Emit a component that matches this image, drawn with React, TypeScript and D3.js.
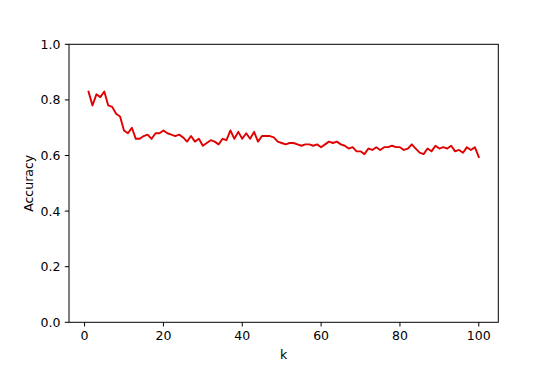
import React from "react";
import * as d3 from "d3";

const kValues: number[] = d3.range(1, 101);
const accuracy: number[] = [
  0.83, 0.78, 0.82, 0.81, 0.83, 0.78, 0.775, 0.75, 0.74, 0.69,
  0.68, 0.70, 0.66, 0.66, 0.67, 0.675, 0.66, 0.68, 0.68, 0.69,
  0.68, 0.675, 0.67, 0.675, 0.665, 0.65, 0.67, 0.65, 0.66, 0.635,
  0.645, 0.655, 0.65, 0.64, 0.66, 0.655, 0.69, 0.66, 0.685, 0.66,
  0.68, 0.66, 0.685, 0.65, 0.67, 0.67, 0.67, 0.665, 0.65, 0.645,
  0.64, 0.645, 0.645, 0.64, 0.635, 0.64, 0.64, 0.635, 0.64, 0.63,
  0.64, 0.65, 0.645, 0.65, 0.64, 0.635, 0.625, 0.63, 0.615, 0.615,
  0.605, 0.625, 0.62, 0.63, 0.62, 0.63, 0.63, 0.635, 0.63, 0.63,
  0.62, 0.625, 0.64, 0.625, 0.61, 0.605, 0.625, 0.615, 0.635, 0.625,
  0.63, 0.625, 0.635, 0.615, 0.62, 0.61, 0.63, 0.62, 0.63, 0.595,
];
const xTicks: number[] = [0, 20, 40, 60, 80, 100];
const yTicks: number[] = [0, 0.2, 0.4, 0.6, 0.8, 1.0];
const xLabel = "k";
const yLabel = "Accuracy";

export default function App() {
  const W = 554, H = 369;
  const left = 69, right = 498.3, top = 44.3, bottom = 322.3;
  const x = d3.scaleLinear().domain([-3.95, 104.95]).range([left, right]);
  const y = d3.scaleLinear().domain([0, 1]).range([bottom, top]);
  const line = d3.line<number>().x((_, i) => x(kValues[i])).y((d) => y(d));
  const font = "DejaVu Sans, sans-serif";
  const fs = 12.5;
  return (
    <svg width={W} height={H} style={{ position: "absolute", left: 0, top: 0 }}>
      <rect width={W} height={H} fill="white" />
      <path d={line(accuracy) || ""} fill="none" stroke="#e00000" strokeWidth={1.9} strokeLinejoin="round" strokeLinecap="square" />
      <rect x={left} y={top} width={right - left} height={bottom - top} fill="none" stroke="#000" strokeWidth={1} />
      {xTicks.map((t) => (
        <g key={"x" + t}>
          <line x1={x(t)} x2={x(t)} y1={bottom} y2={bottom + 4.2} stroke="#000" strokeWidth={1} />
          <text x={x(t)} y={bottom + 8.5} dy="0.76em" textAnchor="middle" fontFamily={font} fontSize={fs}>{t}</text>
        </g>
      ))}
      {yTicks.map((t) => (
        <g key={"y" + t}>
          <line x1={left - 4.2} x2={left} y1={y(t)} y2={y(t)} stroke="#000" strokeWidth={1} />
          <text x={left - 8.5} y={y(t)} dy="0.36em" textAnchor="end" fontFamily={font} fontSize={fs}>{t.toFixed(1)}</text>
        </g>
      ))}
      <text x={(left + right) / 2} y={359} textAnchor="middle" fontFamily={font} fontSize={fs}>{xLabel}</text>
      <text transform={`translate(33,${(top + bottom) / 2}) rotate(-90)`} textAnchor="middle" fontFamily={font} fontSize={fs}>{yLabel}</text>
    </svg>
  );
}
